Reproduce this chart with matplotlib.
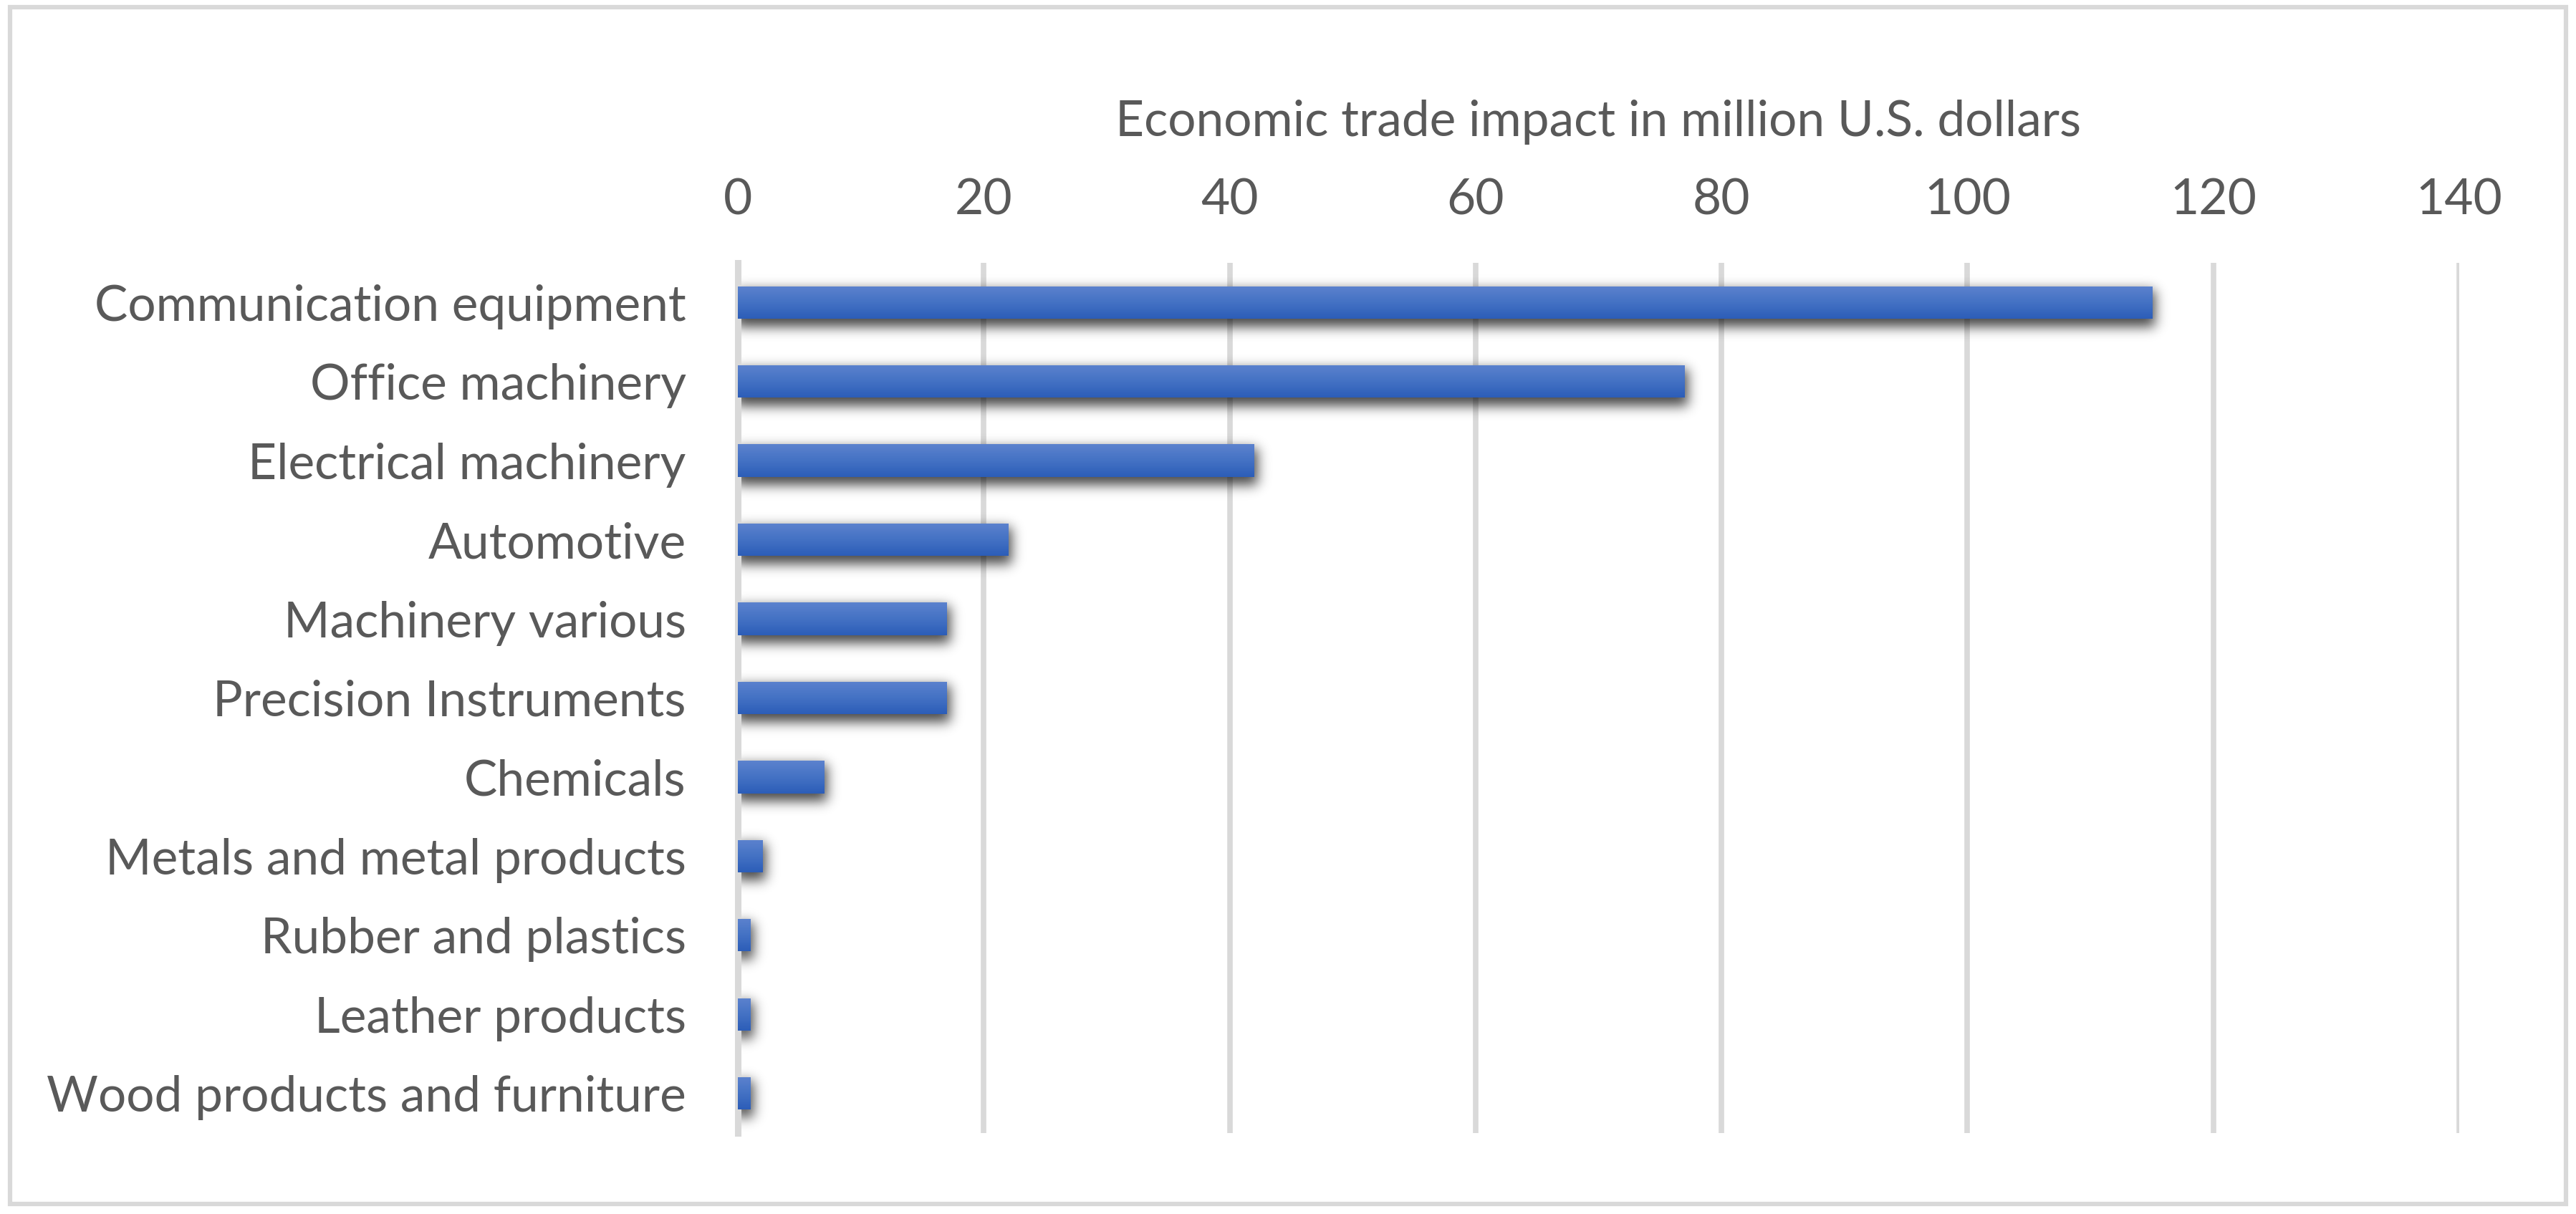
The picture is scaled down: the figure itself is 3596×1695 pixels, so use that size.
import math
import numpy as np
import matplotlib
matplotlib.use("Agg")
import matplotlib.pyplot as plt
from matplotlib.colors import LinearSegmentedColormap
from matplotlib.patches import Rectangle

categories = [
    "Communication equipment",
    "Office machinery",
    "Electrical machinery",
    "Automotive",
    "Machinery various",
    "Precision Instruments",
    "Chemicals",
    "Metals and metal products",
    "Rubber and plastics",
    "Leather products",
    "Wood products and furniture",
]
values = [115, 77, 42, 22, 17, 17, 7, 2, 1, 1, 1]
x_ticks = [0, 20, 40, 60, 80, 100, 120, 140]
x_title = "Economic trade impact in million U.S. dollars"

plt.rcParams["font.family"] = ["Lato", "DejaVu Sans"]
text_color = "#595959"
grid_color = "#d9d9d9"

fig = plt.figure(figsize=(35.96, 16.95), dpi=100)
ax = fig.add_axes([0.2864, 0.0667, 0.9547 - 0.2864, 0.7835 - 0.0667])

y = np.arange(len(categories))
x_lim = (0, 140)
y_lim = (len(categories) - 0.5, -0.5)

bars = ax.barh(y, values, height=0.41, color="#4472c4", zorder=3)

# vertical gradient fill clipped to each bar
cmap = LinearSegmentedColormap.from_list("bar", ["#5c82ce", "#4472c4", "#2c5db8"])
grad = np.linspace(0, 1, 256).reshape(-1, 1)
for b in bars:
    x0, y0, w, h = b.get_x(), b.get_y(), b.get_width(), b.get_height()
    im = ax.imshow(grad, cmap=cmap, aspect="auto", origin="upper",
                   extent=(x0, x0 + w, y0 + h, y0), zorder=4)
    im.set_clip_path(b)

# soft blurred drop shadow, built in pixel space of the axes
bbox = ax.get_window_extent()
W, H = int(bbox.width), int(bbox.height)
px_x = (x_lim[1] - x_lim[0]) / W
px_y = (y_lim[0] - y_lim[1]) / H
xs = np.linspace(x_lim[0], x_lim[1], W)
ys = np.linspace(y_lim[1], y_lim[0], H)
erf = np.vectorize(math.erf)


def soft(t, a, b, s):
    return 0.5 * (erf((t - a) / s) - erf((t - b) / s))


sig_x, sig_y = 12 * px_x, 12 * px_y
grow_x, grow_y, drop = 4 * px_x, 3 * px_y, 8 * px_y
alpha = np.zeros((H, W))
for b in bars:
    x0, y0, w, h = b.get_x(), b.get_y(), b.get_width(), b.get_height()
    sx = soft(xs, x0 - grow_x, x0 + w + grow_x, sig_x)
    sy = soft(ys, y0 - grow_y + drop, y0 + h + grow_y + drop, sig_y)
    alpha = np.maximum(alpha, np.outer(sy, sx))
rgba = np.zeros((H, W, 4))
rgba[..., 3] = 0.72 * alpha
ax.imshow(rgba, aspect="auto", origin="upper",
          extent=(x_lim[0], x_lim[1], y_lim[0], y_lim[1]), zorder=2,
          interpolation="bilinear")

ax.set_xlim(*x_lim)
ax.set_ylim(*y_lim)
ax.set_xticks(x_ticks)
ax.set_yticks(y)
ax.set_yticklabels(categories)

ax.xaxis.tick_top()
ax.xaxis.set_label_position("top")
ax.set_xlabel(x_title, fontsize=50, color=text_color, labelpad=42)

ax.tick_params(axis="x", length=0, labelsize=50, labelcolor=text_color, pad=40)
ax.tick_params(axis="y", length=0, labelsize=50, labelcolor=text_color, pad=52)

ax.grid(axis="x", color=grid_color, linewidth=5.5, zorder=0)
ax.set_axisbelow(True)
for s in ["top", "right", "bottom"]:
    ax.spines[s].set_visible(False)
ax.spines["left"].set_color(grid_color)
ax.spines["left"].set_linewidth(6.5)
ax.spines["left"].set_zorder(2.5)

# chart border
fig.patches.append(Rectangle((0.004, 0.008), 0.992, 0.986, transform=fig.transFigure,
                             fill=False, edgecolor=grid_color, linewidth=4.5))

fig.savefig("out.png", dpi=100, facecolor="white")
